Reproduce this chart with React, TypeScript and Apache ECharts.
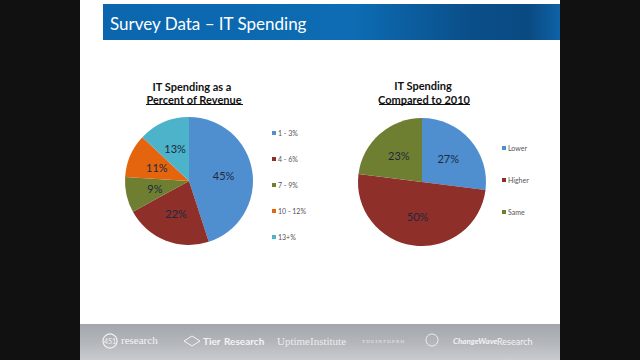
import React, { useEffect, useRef } from "react";
import * as echarts from "echarts";

const revenueCats = ["1 - 3%", "4 - 6%", "7 - 9%", "10 - 12%", "13+%"];
const revenueVals = [45, 22, 9, 11, 13];
const revenueColors = ["#4f8ecf", "#8e2f2a", "#6f7f31", "#e5640e", "#4cb3cb"];

const compareCats = ["Lower", "Higher", "Same"];
const compareVals = [27, 50, 23];
const compareColors = ["#4f8ecf", "#8e2f2a", "#6f7f31"];

const FONT = "Lato, 'Open Sans', sans-serif";

export default function App() {
  const ref = useRef<HTMLDivElement>(null);
  useEffect(() => {
    if (!ref.current) return;
    const chart = echarts.init(ref.current, undefined, { renderer: "svg" });
    const pieLabel = {
      show: true,
      position: "inside",
      formatter: "{c}%",
      fontSize: 11,
      fontFamily: FONT,
      color: "#1c2a3c",
    };
    chart.setOption({
      animation: false,
      backgroundColor: "#111111",
      graphic: [
        { type: "rect", shape: { x: 80, y: 0, width: 480, height: 360 }, style: { fill: "#ffffff" }, z: -10 },
        {
          type: "rect",
          shape: { x: 103, y: 4, width: 457, height: 36 },
          style: {
            fill: new echarts.graphic.LinearGradient(0, 0, 1, 0, [
              { offset: 0, color: "#0b66ae" },
              { offset: 0.55, color: "#0d6cb3" },
              { offset: 0.8, color: "#0a4f8a" },
              { offset: 0.93, color: "#0a4a82" },
              { offset: 1, color: "#0e62a6" },
            ]),
          },
          z: -5,
        },
        {
          type: "text",
          x: 110,
          y: 23,
          style: { text: "Survey Data – IT Spending", fill: "#ffffff", fontSize: 17, fontFamily: FONT, verticalAlign: "middle" },
        },
        {
          type: "rect",
          shape: { x: 80, y: 324, width: 480, height: 36 },
          style: {
            fill: new echarts.graphic.LinearGradient(0, 0, 0, 1, [
              { offset: 0, color: "#a3a7ad" },
              { offset: 0.5, color: "#b2b5ba" },
              { offset: 1, color: "#c9cbcf" },
            ]),
          },
          z: -5,
        },
        // titles
        { type: "text", x: 192, y: 86, style: { text: "IT Spending as a", fontSize: 11, fontWeight: "bold", fontFamily: FONT, fill: "#111", align: "center", verticalAlign: "middle" } },
        { type: "text", x: 194, y: 99, style: { text: "Percent of Revenue", fontSize: 11, fontWeight: "bold", fontFamily: FONT, fill: "#111", align: "center", verticalAlign: "middle" } },
        { type: "line", shape: { x1: 146, y1: 104.5, x2: 243, y2: 104.5 }, style: { stroke: "#111", lineWidth: 1 } },
        { type: "text", x: 423, y: 85, style: { text: "IT Spending", fontSize: 11, fontWeight: "bold", fontFamily: FONT, fill: "#111", align: "center", verticalAlign: "middle" } },
        { type: "text", x: 424, y: 99, style: { text: "Compared to 2010", fontSize: 11, fontWeight: "bold", fontFamily: FONT, fill: "#111", align: "center", verticalAlign: "middle" } },
        { type: "line", shape: { x1: 379, y1: 104.5, x2: 470, y2: 104.5 }, style: { stroke: "#111", lineWidth: 1 } },
        // footer logos
        { type: "circle", shape: { cx: 110, cy: 341, r: 7 }, style: { fill: "none", stroke: "#f4f4f4", lineWidth: 1.2 } },
        { type: "text", x: 110, y: 341, style: { text: "451", fontSize: 7, fontFamily: FONT, fill: "#f4f4f4", align: "center", verticalAlign: "middle" } },
        { type: "text", x: 121, y: 340, style: { text: "research", fontSize: 11, fontFamily: "'Liberation Serif', serif", fill: "#f4f4f4", verticalAlign: "middle" } },
        { type: "polygon", shape: { points: [[184, 341], [192, 336], [200, 341], [192, 346]] }, style: { fill: "none", stroke: "#f4f4f4", lineWidth: 1 } },
        { type: "text", x: 203, y: 341, style: { text: "Tier", fontSize: 10, fontWeight: "bold", fontFamily: FONT, fill: "#f4f4f4", verticalAlign: "middle" } },
        { type: "text", x: 224, y: 341, style: { text: "Research", fontSize: 10, fontWeight: "bold", fontFamily: FONT, fill: "#f4f4f4", verticalAlign: "middle" } },
        { type: "text", x: 277, y: 341, style: { text: "UptimeInstitute", fontSize: 11, fontFamily: "'Liberation Serif', serif", fill: "#eeeeee", verticalAlign: "middle" } },
        { type: "text", x: 362, y: 341, style: { text: "T H E I N F O P R O", fontSize: 5, fontFamily: "'Liberation Serif', serif", fill: "#eeeeee", verticalAlign: "middle" } },
        { type: "circle", shape: { cx: 432, cy: 340, r: 6 }, style: { fill: "none", stroke: "#eeeeee", lineWidth: 1 } },
        { type: "text", x: 453, y: 341, style: { text: "ChangeWave", fontSize: 8, fontStyle: "italic", fontWeight: "bold", fontFamily: FONT, fill: "#f4f4f4", verticalAlign: "middle" } },
        { type: "text", x: 497, y: 341, style: { text: "Research", fontSize: 9, fontFamily: FONT, fill: "#f4f4f4", verticalAlign: "middle" } },
      ],
      legend: [
        {
          data: revenueCats,
          orient: "vertical",
          left: 267,
          top: 124,
          itemWidth: 4,
          itemHeight: 4,
          itemGap: 18,
          icon: "rect",
          textStyle: { fontSize: 7, fontFamily: FONT, color: "#555", lineHeight: 8, padding: [0, 0, 0, -3] },
          selectedMode: false,
        },
        {
          data: compareCats,
          orient: "vertical",
          left: 497,
          top: 139,
          itemWidth: 4,
          itemHeight: 4,
          itemGap: 24,
          icon: "rect",
          textStyle: { fontSize: 7, fontFamily: FONT, color: "#555", lineHeight: 8, padding: [0, 0, 0, -3] },
          selectedMode: false,
        },
      ],
      series: [
        {
          type: "pie",
          center: [189, 181],
          radius: 64,
          startAngle: 90,
          clockwise: true,
          label: pieLabel,
          labelLine: { show: false },
          emphasis: { disabled: true },
          data: revenueCats.map((n, i) => ({ name: n, value: revenueVals[i], itemStyle: { color: revenueColors[i] } })),
        },
        {
          type: "pie",
          center: [422, 182],
          radius: 64,
          startAngle: 90,
          clockwise: true,
          label: pieLabel,
          labelLine: { show: false },
          emphasis: { disabled: true },
          data: compareCats.map((n, i) => ({ name: n, value: compareVals[i], itemStyle: { color: compareColors[i] } })),
        },
      ],
    });
    return () => chart.dispose();
  }, []);
  return <div ref={ref} style={{ position: "fixed", left: 0, top: 0, width: 640, height: 360 }} />;
}
